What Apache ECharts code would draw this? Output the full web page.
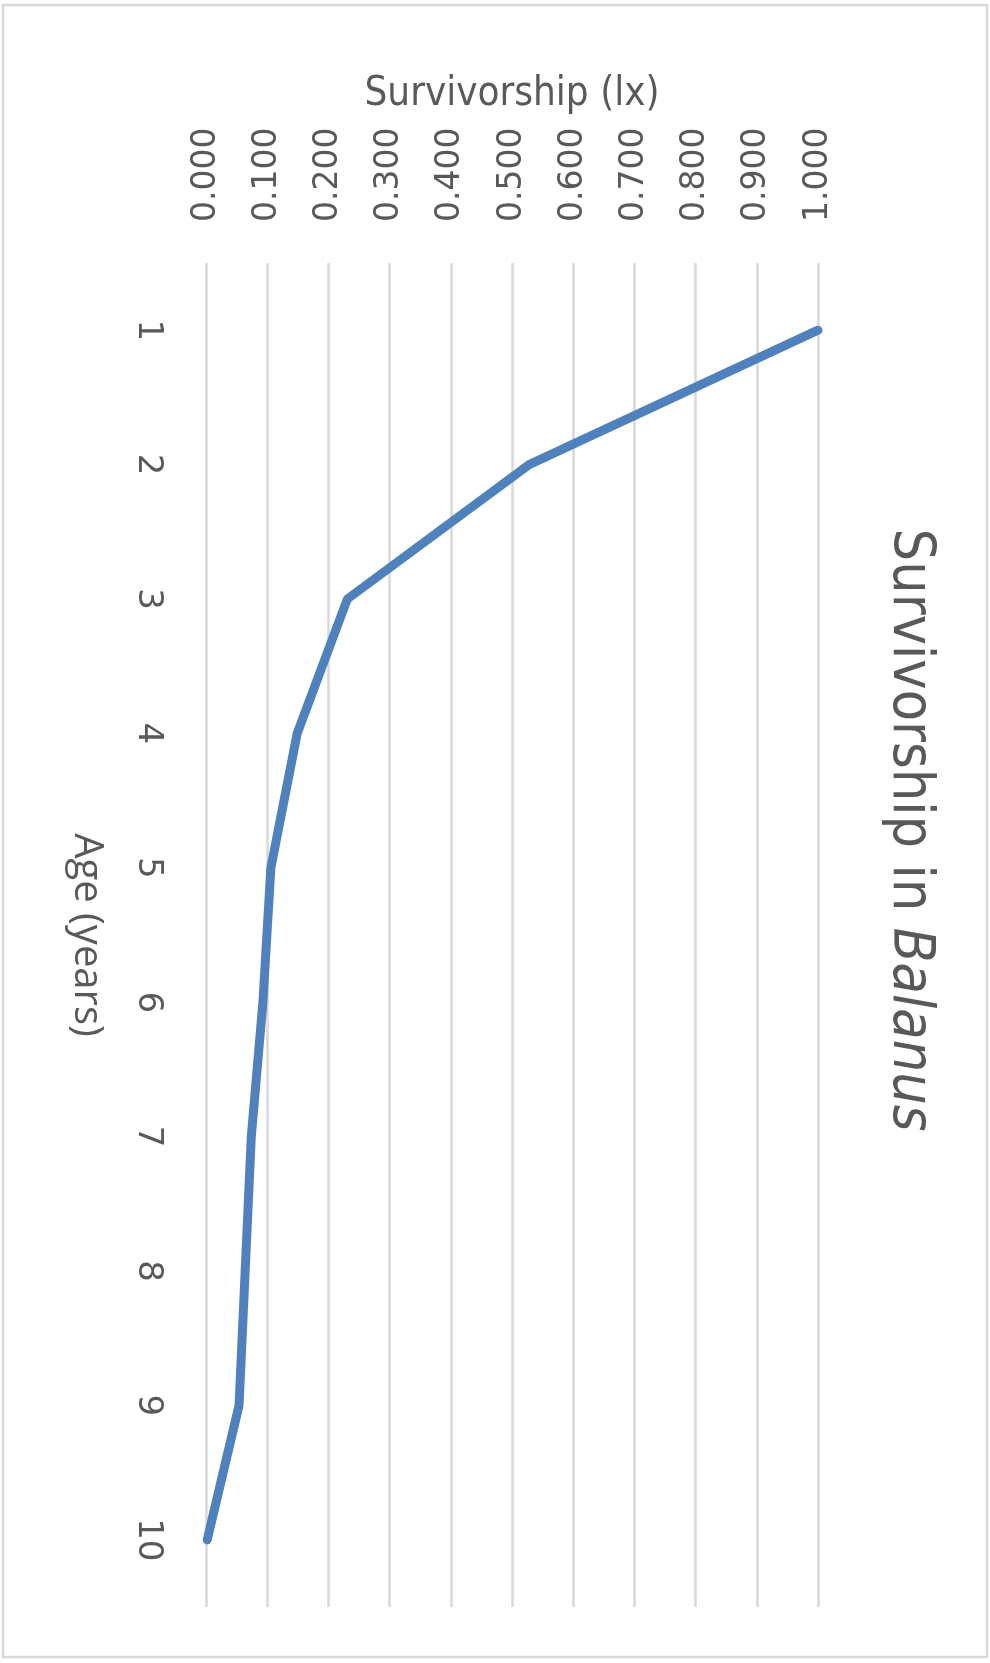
<!DOCTYPE html>
<html>
<head>
<meta charset="utf-8">
<script src="https://cdn.jsdelivr.net/npm/echarts@6/dist/echarts.min.js"></script>
<style>
html,body{margin:0;padding:0;background:#fff;}
#chart{width:990px;height:1663px;}
</style>
</head>
<body>
<div id="chart"></div>
<script>
// Data
var ages = ['1','2','3','4','5','6','7','8','9','10'];
var survivorship = [1.000, 0.528, 0.231, 0.149, 0.106, 0.093, 0.074, 0.064, 0.054, 0.002];
var titleText = 'Survivorship in ';
var titleItalic = 'Balanus';
var valueAxisName = 'Survivorship (lx)';
var categoryAxisName = 'Age (years)';

var textColor = '#595959';
var condensed = "'DejaVu Sans Condensed', 'Liberation Sans Narrow', sans-serif";
var sans = "'Open Sans', 'Noto Sans', sans-serif";
var tickFont = "'DejaVu Sans', sans-serif";

var chart = echarts.init(document.getElementById('chart'));
chart.setOption({
  animation: false,
  backgroundColor: '#fff',
  grid: {left: 206, right: 172, top: 263, bottom: 56, containLabel: false},
  xAxis: {
    type: 'value',
    position: 'top',
    min: 0, max: 1, interval: 0.1,
    name: valueAxisName,
    nameLocation: 'middle',
    nameGap: 148,
    nameTextStyle: {color: textColor, fontSize: 40, fontFamily: condensed},
    axisLine: {show: false},
    axisTick: {show: false},
    axisLabel: {
      rotate: -90, margin: 41, color: textColor, fontSize: 33, fontFamily: tickFont,
      formatter: function (v) { return v.toFixed(3); }
    },
    splitLine: {show: true, lineStyle: {color: '#d9d9d9', width: 2.5}}
  },
  yAxis: {
    type: 'category',
    inverse: true,
    data: ages,
    boundaryGap: true,
    name: categoryAxisName,
    nameLocation: 'middle',
    nameRotate: -90,
    nameGap: 100,
    nameTextStyle: {color: textColor, fontSize: 40, fontFamily: sans},
    axisLine: {show: false},
    axisTick: {show: false},
    axisLabel: {rotate: -90, margin: 41, color: textColor, fontSize: 34, fontFamily: tickFont},
    splitLine: {show: false}
  },
  series: [{
    type: 'line',
    data: survivorship,
    symbol: 'none',
    lineStyle: {color: '#4f81bd', width: 9, cap: 'round', join: 'round'},
    itemStyle: {color: '#4f81bd'}
  }],
  graphic: [
    {
      type: 'rect', silent: true, z: -1,
      shape: {x: 3, y: 5, width: 984, height: 1652},
      style: {fill: 'none', stroke: '#d9d9d9', lineWidth: 2.5}
    },
    {
      type: 'text', silent: true,
      x: 909, y: 830, rotation: -Math.PI / 2,
      style: {
        text: '{a|' + titleText + '}{b|' + titleItalic + '}',
        align: 'center', verticalAlign: 'middle',
        fill: textColor, fontSize: 57, fontFamily: condensed,
        rich: {
          a: {fill: textColor, fontSize: 57, fontFamily: condensed},
          b: {fill: textColor, fontSize: 57, fontFamily: condensed, fontStyle: 'italic'}
        }
      }
    }
  ]
});
</script>
</body>
</html>
